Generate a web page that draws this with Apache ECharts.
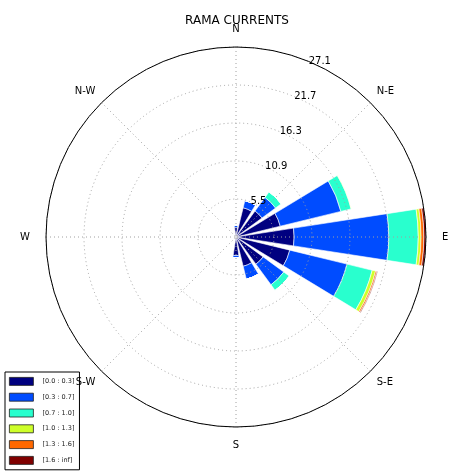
<!DOCTYPE html>
<html>
<head>
<meta charset="utf-8">
<script src="https://cdn.jsdelivr.net/npm/echarts@6/dist/echarts.min.js"></script>
<style>
  html, body { margin: 0; padding: 0; background: #fff; }
  #chart { width: 474px; height: 474px; }
</style>
</head>
<body>
<div id="chart"></div>
<script>
// 16 sectors, clockwise from north
const directions = ['N', 'NNE', 'NE', 'ENE', 'E', 'ESE', 'SE', 'SSE',
  'S', 'SSW', 'SW', 'WSW', 'W', 'WNW', 'NW', 'NNW'];
const compassLabels = ['N', 'N-E', 'E', 'S-E', 'S', 'S-W', 'W', 'N-W'];
const radiusTicks = ['5.5', '10.9', '16.3', '21.7', '27.1'];
const speedBins = ['[0.0 : 0.3]', '[0.3 : 0.7]', '[0.7 : 1.0]', '[1.0 : 1.3]', '[1.3 : 1.6]', '[1.6 : inf]'];

// frequency (%) per speed bin, per direction
const bin0 = [1.35, 4.3, 4.6, 6.5, 8.3, 7.9, 4.8, 4.3, 2.65, 0.15, 0.1, 0.1, 0.15, 0.1, 0.1, 0.15];
const bin1 = [0.35, 1.05, 2.4, 8.9, 13.5, 8.4, 3.65, 1.9, 0.3, 0, 0, 0, 0, 0, 0, 0];
const bin2 = [0, 0, 1.0, 1.5, 4.2, 3.7, 1.0, 0, 0, 0, 0, 0, 0, 0, 0, 0];
const bin3 = [0, 0, 0, 0.1, 0.4, 0.5, 0, 0, 0, 0, 0, 0, 0, 0, 0, 0];
const bin4 = [0, 0, 0, 0, 0.4, 0.2, 0, 0, 0, 0, 0, 0, 0, 0, 0, 0];
const bin5 = [0, 0, 0, 0, 0.3, 0.1, 0, 0, 0, 0, 0, 0, 0, 0, 0, 0];
const binColors = ['#000080', '#004cff', '#29ffce', '#ceff29', '#ff6800', '#800000'];

const rMax = 27.1;
const font = 'DejaVu Sans';

const chart = echarts.init(document.getElementById('chart'), null, { width: 474, height: 474 });

const polarBase = { center: [236, 237], radius: 190 };

chart.setOption({
  animation: false,
  textStyle: { fontFamily: font },
  title: {
    text: 'RAMA CURRENTS',
    left: 'center',
    top: 10,
    textStyle: { fontFamily: font, fontSize: 12, fontWeight: 'normal', color: '#000' },
  },
  legend: {
    data: speedBins,
    orient: 'vertical',
    left: 5,
    top: 372,
    itemWidth: 24,
    itemHeight: 8,
    itemGap: 7,
    padding: [5, 5, 5, 4],
    borderColor: '#000',
    borderWidth: 1,
    backgroundColor: '#fff',
    icon: 'rect',
    itemStyle: { borderColor: '#222', borderWidth: 0.8 },
    textStyle: { fontFamily: font, fontSize: 6.5, color: '#222', padding: [0, 0, 0, 4] },
  },
  polar: [polarBase, polarBase, polarBase],
  angleAxis: [
    {
      // bars
      polarIndex: 0,
      type: 'category',
      data: directions,
      startAngle: 90 + 11.25,
      clockwise: true,
      show: false,
    },
    {
      // grid and compass labels
      polarIndex: 1,
      type: 'value',
      min: 0,
      max: 360,
      interval: 45,
      startAngle: 90,
      clockwise: true,
      z: 5,
      axisLine: { show: true, lineStyle: { color: '#000', width: 1 } },
      axisTick: { show: false },
      splitLine: { show: true, lineStyle: { color: '#a0a0a0', type: [1, 3], width: 1 } },
      axisLabel: {
        margin: 9,
        fontFamily: font,
        fontSize: 10,
        color: '#000',
        formatter: (v) => {
          const i = Math.round(v / 45) % 8;
          const key = ['n', 'd', 'e', 'd', 's', 'd', 'w', 'd'][i];
          return '{' + key + '|' + compassLabels[i] + '}';
        },
        rich: {
          n: { fontSize: 10, padding: [0, 0, 4, 0] },
          s: { fontSize: 10, padding: [4, 0, 0, 0] },
          e: { fontSize: 10, padding: [0, 0, 0, 7] },
          w: { fontSize: 10, padding: [0, 7, 0, 0] },
          d: { fontSize: 10 },
        },
      },
    },
    {
      // radius labels
      polarIndex: 2,
      type: 'value',
      min: 0,
      max: 360,
      startAngle: 67.5,
      clockwise: true,
      show: false,
    },
  ],
  radiusAxis: [
    { polarIndex: 0, type: 'value', min: 0, max: rMax, show: false },
    {
      polarIndex: 1,
      type: 'value',
      min: 0,
      max: rMax,
      interval: rMax / 5,
      z: 5,
      axisLine: { show: false },
      axisTick: { show: false },
      axisLabel: { show: false },
      splitLine: { show: true, lineStyle: { color: '#a0a0a0', type: [1, 3], width: 1 } },
    },
    {
      polarIndex: 2,
      type: 'value',
      min: 0,
      max: rMax,
      interval: rMax / 5,
      z: 6,
      axisLine: { show: false },
      axisTick: { show: false },
      splitLine: { show: false },
      axisLabel: {
        margin: 0,
        align: 'left',
        verticalAlign: 'middle',
        padding: [0, 0, 7, 0],
        fontFamily: font,
        fontSize: 10,
        color: '#000',
        formatter: (v) => (v > 0 ? radiusTicks[Math.round(v / (rMax / 5)) - 1] : ''),
      },
    },
  ],
  series: [bin0, bin1, bin2, bin3, bin4, bin5].map((vals, k) => ({
    name: speedBins[k],
    type: 'bar',
    coordinateSystem: 'polar',
    polarIndex: 0,
    stack: 'total',
    barCategoryGap: '22%',
    data: vals,
    itemStyle: { color: binColors[k], borderColor: '#fff', borderWidth: 0.6 },
  })),
});
</script>
</body>
</html>
